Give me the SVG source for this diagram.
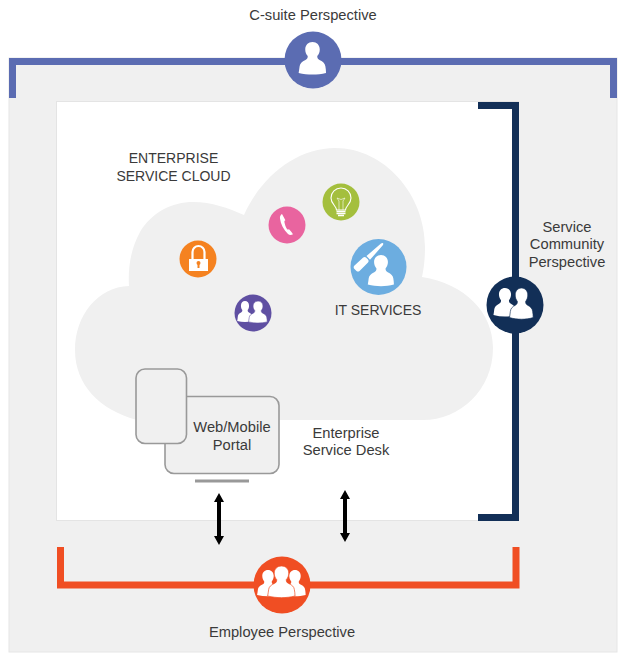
<svg xmlns="http://www.w3.org/2000/svg" width="622" height="658" viewBox="0 0 622 658">
<style>
text{font-family:"Liberation Sans",Arial,sans-serif;font-size:14.7px;fill:#3a3a3a;text-anchor:middle}
.c{font-size:14px}
.w{fill:#fff}
.br{fill:none;stroke-width:7}
.dev{fill:#f0f0f0;stroke:#999;stroke-width:1.6}
</style>
<defs>
<path id="p" d="M0-20c-6.500 0-11 4-11 9.500 0 3.500 1.500 6.500 3.800 8.700 0 2.800-1 4-3.500 5-5.500 2.300-8.300 4.500-8.800 8.300-.5 3-.8 5.500-1.500 8.500 7 1.500 14 2.200 21 2.200s14-.7 20.500-2.200c0-3-.5-6-1-8.500-.5-3.800-3.300-6-8.800-8.300-2.500-1-3.500-2.200-3.500-5 2.300-2.200 3.800-5.200 3.800-8.700 0-5.500-4.500-9.500-11-9.500z"/>
</defs>
<rect width="622" height="658" fill="#fff"/>
<rect x="9" y="58" width="608" height="594" fill="#f0f0f0" stroke="#e6e6e6"/>
<rect x="56.500" y="101.500" width="462" height="419" fill="#fff" stroke="#e4e4e4"/>
<g id="cloud"><path fill="#f0f0f0" d="M137 420C100 410 75 385 75 350C75 315 98 287 129 286C128 270 130 250 140 232C152 212 172 202 193 202C212 202 228 208 244 215C262 175 298 148 335 148C385 148 425 195 425 247C425 258 424 268 422 277C465 284 493 312 493 348C493 390 460 420 423 420Z"/></g>
<g id="connectors">
<path class="br" stroke="#5b6cb2" d="M12.500 98V61.500H613.500V98"/>
<path class="br" stroke="#122f57" d="M478 105.500H515.500V517.500H478"/>
<path class="br" stroke="#f04e23" d="M60.500 547V585H516V547"/>
<path d="M219 493l5 9h-3v34h3l-5 9-5-9h3v-34h-3z" fill="#000"/>
<path d="M345 490l5 9h-3v34h3l-5 9-5-9h3v-34h-3z" fill="#000"/>
</g>
<g id="c-suite"><circle cx="313" cy="60" r="28.500" fill="#5b6cb2"/><use href="#p" class="w" transform="translate(312.500 57.500) scale(.66 .77)"/><text x="313" y="20">C-suite Perspective</text></g>
<g id="service-community"><circle cx="515" cy="305" r="28.500" fill="#122f57"/><use href="#p" class="w" transform="translate(505 301.500) scale(.55 .68)"/><use href="#p" class="w" stroke="#122f57" stroke-width="1" transform="translate(521.500 302.800) scale(.57 .74)"/><text x="567" y="232">Service</text><text x="567" y="249">Community</text><text x="567" y="267">Perspective</text></g>
<g id="employee"><circle cx="282" cy="585" r="28.500" fill="#f04e23"/><use href="#p" class="w" transform="translate(268 582.500) scale(.52 .62)"/><use href="#p" class="w" transform="translate(295 582.500) scale(.52 .62)"/><use href="#p" class="w" stroke="#f04e23" stroke-width="1" transform="translate(281.500 581) scale(.66 .75)"/><text x="282" y="637">Employee Perspective</text></g>
<g id="enterprise-cloud"><text class="c" x="173.500" y="163">ENTERPRISE</text><text class="c" x="173.500" y="181">SERVICE CLOUD</text></g>
<g id="lock"><circle cx="198" cy="259" r="18.500" fill="#f58220"/><rect x="189" y="259" width="19" height="12" class="w"/><path d="M192.500 259v-7a6 6 0 0 1 12 0v7" fill="none" stroke="#fff" stroke-width="2.200"/><circle cx="198.500" cy="263" r="2" fill="#f58220"/><rect x="197.500" y="263" width="2" height="5" fill="#f58220"/></g>
<g id="phone"><circle cx="287" cy="225" r="18.500" fill="#e9649f"/><path d="M282 214c-1.500 1-2.300 2.500-2 4.500.7 6 3.500 11 8 15.500 1.500 1.300 3.300 1.200 5 .2-1-1.800-2.300-3.500-4-5-1 .5-1.500.5-2-.2-1.300-2-2.200-4.500-2.600-7-.1-1 .2-1.300 1-1.800z" class="w"/></g>
<g id="bulb"><circle cx="341" cy="202" r="18.500" fill="#a4bf3d"/><path d="M336.500 210c0-4-5.500-6-5.500-12a10 10 0 0 1 20 0c0 6-5.500 8-5.500 12z" fill="none" stroke="#fff" stroke-width="1.100"/><path d="M339 210v-9l-2-3M343 210v-9l2-3M337 198q4 3 8 0" fill="none" stroke="#fff" stroke-width=".6"/><path d="M336.500 211.500h9M336.500 213.500h9M338 215.500h6" stroke="#fff" stroke-width="1.300"/></g>
<g id="it-services"><circle cx="378.500" cy="267" r="28" fill="#6cade0"/><path d="M354 268.500l2.500 2.500c1 .8 2 .8 3 0l8.500-8.500c.8-1 .8-2 0-3l-2-2c-.8-.7-1.800-.7-2.800.1l-8.700 8c-1 .9-1 1.900-.5 2.900zM366.500 256l14.500-12.500c.8-.6 1.500-.7 2-.2s.4 1.300-.2 2l-12.800 14.500z" class="w"/><use href="#p" class="w" transform="translate(381 269.800) scale(.63 .74)"/><text class="c" x="378" y="315">IT SERVICES</text></g>
<g id="community"><circle cx="253" cy="313" r="18.500" fill="#5f4fa2"/><use href="#p" class="w" transform="translate(245 311) scale(.37 .5)"/><use href="#p" class="w" stroke="#5f4fa2" stroke-width="1.200" transform="translate(258 311.500) scale(.45 .52)"/></g>
<g id="portal"><rect x="165" y="396.500" width="114" height="77" rx="9" class="dev"/><rect x="136" y="369" width="50.500" height="74.500" rx="9" class="dev"/><rect x="195" y="479.500" width="54" height="3" fill="#999"/><text x="232" y="432">Web/Mobile</text><text x="232" y="450">Portal</text></g>
<g id="service-desk"><text x="346" y="438">Enterprise</text><text x="346" y="455">Service Desk</text></g>
</svg>
